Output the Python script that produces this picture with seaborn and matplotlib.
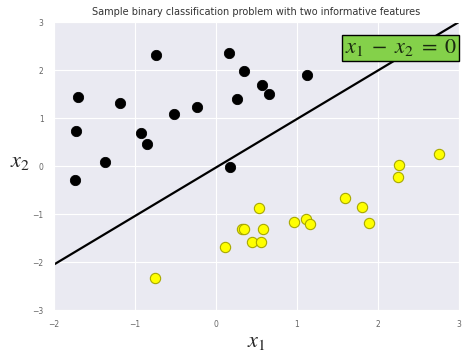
import matplotlib
matplotlib.use("Agg")
import matplotlib.pyplot as plt
import seaborn as sns
import pandas as pd

# class 0 (black) points
x1_black = [-1.71, -1.73, -1.74, -1.37, -1.18, -0.74, -0.93, -0.85, -0.52, -0.24,
            0.16, 0.35, 0.26, 0.57, 0.65, 0.17, 1.12]
x2_black = [1.43, 0.74, -0.29, 0.09, 1.32, 2.31, 0.68, 0.45, 1.09, 1.24,
            2.35, 1.98, 1.39, 1.69, 1.50, -0.01, 1.90]
# class 1 (yellow) points
x1_yellow = [2.76, 2.26, 2.25, 1.59, 1.80, 1.89, 0.53, 0.96, 1.11, 1.16,
             0.32, 0.35, 0.58, 0.45, 0.56, 0.11, -0.75]
x2_yellow = [0.26, 0.03, -0.23, -0.67, -0.85, -1.18, -0.875, -1.16, -1.11, -1.20,
             -1.32, -1.32, -1.32, -1.59, -1.59, -1.69, -2.33]
line_x = [-2, 3]
line_y = [-2.05, 3.0]

df = pd.DataFrame({
    "x1": x1_black + x1_yellow,
    "x2": x2_black + x2_yellow,
    "cls": ["0"] * len(x1_black) + ["1"] * len(x1_yellow),
})

sns.set_style("darkgrid")
plt.rcParams["mathtext.fontset"] = "stix"

fig = plt.figure(figsize=(4.74, 3.56), dpi=100)
ax = fig.add_axes([0.114, 0.129, 0.854, 0.809])

ax.plot(line_x, line_y, color="black", lw=1.6, zorder=2)
sns.scatterplot(data=df[df.cls == "0"], x="x1", y="x2", color="black",
                edgecolor="black", s=55, ax=ax, zorder=3, legend=False)
sns.scatterplot(data=df[df.cls == "1"], x="x1", y="x2", color="#ffff00",
                edgecolor="#a8a800", linewidth=0.8, s=55, ax=ax, zorder=3, legend=False)

ax.set_xlim(-2, 3)
ax.set_ylim(-3, 3)
ax.tick_params(labelsize=5.5, colors="#666666", pad=4)
ax.set_title("Sample binary classification problem with two informative features",
             fontsize=7, color="#333333", pad=5)
ax.set_xlabel("$x_1$", fontsize=16, labelpad=2)
ax.set_ylabel("$x_2$", fontsize=16, rotation=0, labelpad=14)
ax.yaxis.set_label_coords(-0.085, 0.48)

ax.text(2.28, 2.46, r"$x_1 \;-\; x_2 \;=\; 0$", fontsize=16, ha="center", va="center",
        color="#1a2a10", zorder=5,
        bbox=dict(boxstyle="square,pad=0.12", facecolor="#84d14a", edgecolor="black", lw=1))

fig.savefig("out.png", dpi=100)
